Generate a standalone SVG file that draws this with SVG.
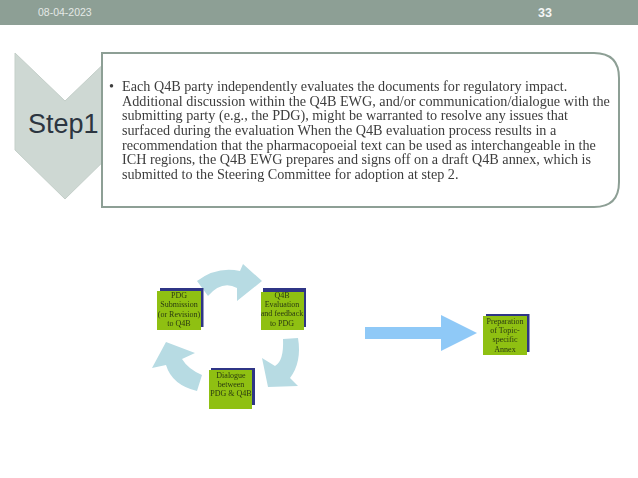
<svg xmlns="http://www.w3.org/2000/svg" width="638" height="478" viewBox="0 0 638 478">
<style>
.bt{font:14.2px "Liberation Serif",serif;fill:#3c3c3c}
.lb{font:8px "Liberation Serif",serif;fill:#2a3a10;text-anchor:middle}
.green{fill:#8fc012}
.navy{fill:#2f3586}
.cyc{fill:#b7dbe3}
</style>
<defs><filter id="s" x="-5%" y="-5%" width="110%" height="110%"><feGaussianBlur stdDeviation="0.3"/></filter></defs>
<rect id="bg" width="638" height="478" fill="#fff"/>
<g id="header">
<rect width="638" height="25" fill="#8d9f95"/>
<text x="38" y="16" font-family="Liberation Sans, sans-serif" font-size="10.5" fill="#e4e9e6">08-04-2023</text>
<text x="538" y="17" font-family="Liberation Sans, sans-serif" font-size="12.5" font-weight="700" fill="#f4f6f5">33</text>
</g>
<g id="step1">
<path d="M15 53L65 101L115 53V150L65 199L15 150Z" fill="#ced8d3" stroke="#c4cfc9" stroke-width="1"/>
<text x="28" y="133" font-family="Liberation Sans, sans-serif" font-size="27" fill="#2c3540">Step1</text>
</g>
<g id="description">
<path d="M102 53H594Q619 53 619 78V182Q619 207 594 207H102Z" fill="#fff" stroke="#8d9f95" stroke-width="2"/>
<g filter="url(#s)">
<text class="bt" x="109" y="91">•</text>
<text class="bt" x="122" y="91">Each Q4B party independently evaluates the documents for regulatory impact.</text>
<text class="bt" x="122" y="105.5">Additional discussion within the Q4B EWG, and/or communication/dialogue with the</text>
<text class="bt" x="122" y="120">submitting party (e.g., the PDG), might be warranted to resolve any issues that</text>
<text class="bt" x="122" y="135">surfaced during the evaluation When the Q4B evaluation process results in a</text>
<text class="bt" x="122" y="149.5">recommendation that the pharmacopoeial text can be used as interchangeable in the</text>
<text class="bt" x="122" y="164">ICH regions, the Q4B EWG prepares and signs off on a draft Q4B annex, which is</text>
<text class="bt" x="122" y="179">submitted to the Steering Committee for adoption at step 2.</text>
</g>
</g>
<g id="connectors">
<path class="cyc" d="M197 281Q217 266 240 271L243 264L262 281L237 301V288Q222 280 208 296Z"/>
<path class="cyc" d="M298 338Q302 362 290 378L298 386L268 387L262 358L275 366Q284 361 283 339Z"/>
<path class="cyc" d="M197 391Q172 385 166 365L152 368L166 342L195 353L182 359Q188 369 202 375Z"/>
<path d="M365 327H441V315L477 333L441 351V339H365Z" fill="#8fc9f7"/>
</g>
<g id="node-pdg">
<rect class="navy" x="160" y="288" width="43.5" height="39"/>
<rect class="green" x="157" y="291" width="44" height="39"/>
<g filter="url(#s)">
<text class="lb" x="179" y="298">PDG</text>
<text class="lb" x="179" y="307">Submission</text>
<text class="lb" x="179" y="316.5">(or Revision)</text>
<text class="lb" x="179" y="325.5">to Q4B</text>
</g>
</g>
<g id="node-q4b">
<rect class="navy" x="263" y="288" width="43" height="39"/>
<rect class="green" x="261" y="292" width="43" height="38"/>
<g filter="url(#s)">
<text class="lb" x="282" y="298">Q4B</text>
<text class="lb" x="282" y="307">Evaluation</text>
<text class="lb" x="282" y="316">and feedback</text>
<text class="lb" x="282" y="325.5">to PDG</text>
</g>
</g>
<g id="node-dialogue">
<rect class="navy" x="211" y="368" width="44" height="37"/>
<rect class="green" x="209" y="370" width="43" height="39"/>
<g filter="url(#s)">
<text class="lb" x="231" y="377.5">Dialogue</text>
<text class="lb" x="231" y="386.5">between</text>
<text class="lb" x="231" y="395.5">PDG &amp; Q4B</text>
</g>
</g>
<g id="node-annex">
<rect class="navy" x="486" y="314" width="43.5" height="38"/>
<rect class="green" x="483" y="316" width="44" height="39"/>
<g filter="url(#s)">
<text class="lb" x="505" y="323.5">Preparation</text>
<text class="lb" x="505" y="333">of Topic-</text>
<text class="lb" x="505" y="342">specific</text>
<text class="lb" x="505" y="351.5">Annex</text>
</g>
</g>
</svg>
